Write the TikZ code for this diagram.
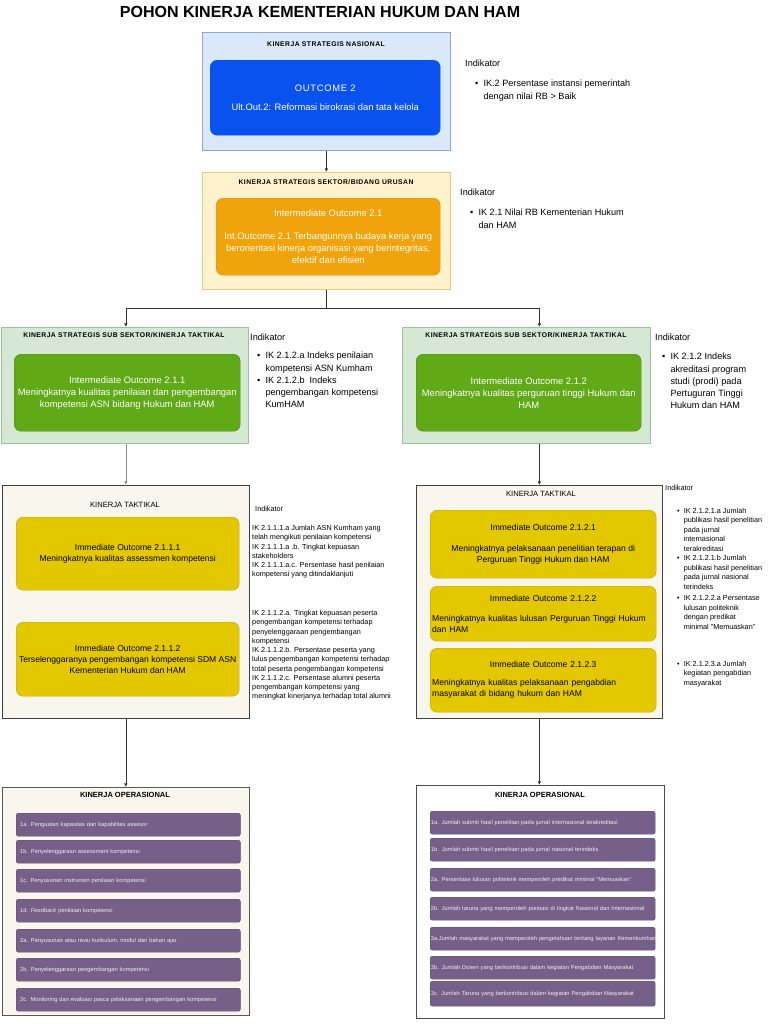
\documentclass[tikz,border=0pt]{standalone}
\usepackage{fontspec}
\setmainfont{Liberation Sans}
\usepackage{tikz}
\usetikzlibrary{arrows.meta,positioning,calc}

\definecolor{nasbg}{HTML}{DAE8FC}
\definecolor{nasline}{HTML}{8EA9CF}
\definecolor{outblue}{HTML}{0A52F0}
\definecolor{sekbg}{HTML}{FFF2CC}
\definecolor{sekline}{HTML}{E5C77E}
\definecolor{orangebox}{HTML}{F0A30A}
\definecolor{subbg}{HTML}{D5E8D4}
\definecolor{subline}{HTML}{9CC39B}
\definecolor{greenbox}{HTML}{60A917}
\definecolor{creambg}{HTML}{F9F7ED}
\definecolor{yellowbox}{HTML}{E3C800}
\definecolor{purplebox}{HTML}{76608A}

\tikzset{
  panel/.style={draw=#1, line width=0.6pt, anchor=north west, inner sep=0pt},
  wh/.style 2 args={minimum width=#1*0.03cm, minimum height=#2*0.03cm},
  judul/.style={font=\bfseries\fontsize{13.7}{16}\selectfont, inner sep=0pt},
  hdr/.style={font=\bfseries\fontsize{5.8}{7}\selectfont\addfontfeature{LetterSpace=6.5}, inner sep=0pt},
  hdrtak/.style={font=\fontsize{6.5}{8}\selectfont, inner sep=0pt},
  inbox/.style={rounded corners=6pt, anchor=north west, inner sep=0pt, align=center,
    font=\fontsize{8}{10.2}\selectfont},
  imbox/.style={inbox, fill=yellowbox, draw=yellowbox!85!black, line width=0.4pt,
    font=\fontsize{7.3}{9.4}\selectfont},
  pbox/.style={rounded corners=2pt, anchor=north west, fill=purplebox, draw=purplebox!80!black,
    line width=0.4pt, inner ysep=0pt, align=left, text=white!88!purplebox,
    font=\fontsize{4.9}{6}\selectfont},
  ind/.style={inner sep=0pt, align=left, font=\fontsize{7.8}{10.4}\selectfont},
  indkecil/.style={inner sep=0pt, align=left, font=\fontsize{6.2}{7.9}\selectfont},
  arr/.style={-{Latex[length=3pt,width=3pt]}, line width=0.6pt, draw=black!80},
  lin/.style={line width=0.6pt, draw=black!80},
}

\newcommand{\bul}{\textbullet\ \ }
\newcommand{\nobul}{\hphantom{\textbullet\ \ }}

\begin{document}
\begin{tikzpicture}[x=0.03cm, y=-0.03cm]
\useasboundingbox (0,0) rectangle (768,1024);

\node[judul] (judul) at (320,12) {POHON KINERJA KEMENTERIAN HUKUM DAN HAM};

% kinerja strategis nasional
\node[panel=nasline, fill=nasbg, wh={248}{118}] (nas) at (202,32) {};
\node[hdr] (nasH) at (326,44) {KINERJA STRATEGIS NASIONAL};
\node[inbox, fill=outblue, draw=outblue, wh={230}{75}, text=white] (out2) at (210,60)
  {{\addfontfeature{LetterSpace=8}OUTCOME 2}\\[5.5pt]Ult.Out.2: Reformasi birokrasi dan tata kelola};
\node[ind, anchor=west] (indNasH) at (465,63) {Indikator};
\node[ind, anchor=north west] (indNas) at (475,80)
  {\bul IK.2 Persentase instansi pemerintah\\ \nobul dengan nilai RB > Baik};

% kinerja strategis sektor
\node[panel=sekline, fill=sekbg, wh={248}{117}] (sek) at (202,172) {};
\node[hdr] (sekH) at (326,182) {KINERJA STRATEGIS SEKTOR/BIDANG URUSAN};
\node[inbox, fill=orangebox, draw=orangebox!90!black, wh={224}{77}, text=white] (io21) at (216,198)
  {Intermediate Outcome 2.1\\[9pt]Int.Outcome 2.1 Terbangunnya budaya kerja yang\\
   berorientasi kinerja organisasi yang berintegritas,\\ efektif dan efisien};
\node[ind, anchor=west] (indSekH) at (460,192) {Indikator};
\node[ind, anchor=north west] (indSek) at (470,209)
  {\bul IK 2.1 Nilai RB Kementerian Hukum\\ \nobul dan HAM};

% kinerja strategis sub sektor
\node[panel=subline, fill=subbg, wh={247}{116}] (subL) at (1,327) {};
\node[hdr] (subLH) at (124,335) {KINERJA STRATEGIS SUB SEKTOR/KINERJA TAKTIKAL};
\node[inbox, fill=greenbox, draw=greenbox!80!black, wh={226}{77}, text=white] (io211) at (14,354)
  {Intermediate Outcome 2.1.1\\ Meningkatnya kualitas penilaian dan pengembangan\\ kompetensi ASN bidang Hukum dan HAM};
\node[ind, anchor=west] (indSubLH) at (250,337) {Indikator};
\node[ind, anchor=north west] (indSubL) at (257,352)
  {\bul IK 2.1.2.a Indeks penilaian\\ \nobul kompetensi ASN Kumham\\
   \bul IK 2.1.2.b\ \ Indeks\\ \nobul pengembangan kompetensi\\ \nobul KumHAM};

\node[panel=subline, fill=subbg, wh={248}{116}] (subR) at (402,327) {};
\node[hdr] (subRH) at (526,335) {KINERJA STRATEGIS SUB SEKTOR/KINERJA TAKTIKAL};
\node[inbox, fill=greenbox, draw=greenbox!80!black, wh={225}{77}, text=white] (io212) at (416,354)
  {Intermediate Outcome 2.1.2\\ Meningkatnya kualitas perguruan tinggi Hukum dan\\ HAM};
\node[ind, anchor=west] (indSubRH) at (655,337) {Indikator};
\node[ind, anchor=north west] (indSubR) at (662,353)
  {\bul IK 2.1.2 Indeks\\ \nobul akreditasi program\\ \nobul studi (prodi) pada\\
   \nobul Pertuguran Tinggi\\ \nobul Hukum dan HAM};

% kinerja taktikal
\node[panel=black!75, fill=creambg, wh={247}{233}] (takL) at (2,485) {};
\node[hdrtak] (takLH) at (125,505) {KINERJA TAKTIKAL};
\node[imbox, wh={223}{73}] (im2111) at (16,517)
  {Immediate Outcome 2.1.1.1\\ Meningkatnya kualitas assessmen kompetensi};
\node[imbox, wh={223}{74}] (im2112) at (16,622)
  {Immediate Outcome 2.1.1.2\\ Terselenggaranya pengembangan kompetensi SDM ASN\\ Kementerian Hukum dan HAM};
\node[indkecil, anchor=west] (indTakLH) at (255,509) {Indikator};
\node[indkecil, anchor=north west] (indTakL1) at (252,525)
  {IK 2.1.1.1.a Jumlah ASN Kumham yang\\ telah mengikuti penilaian kompetensi\\
   IK 2.1.1.1.a .b. Tingkat kepuasan\\ stakeholders\\
   IK 2.1.1.1.a.c. Persentase hasil penilaian\\ kompetensi yang ditindaklanjuti};
\node[indkecil, anchor=north west] (indTakL2) at (252,610)
  {IK 2.1.1.2.a. Tingkat kepuasan peserta\\ pengembangan kompetensi terhadap\\
   penyelenggaraan pengembangan\\ kompetensi\\
   IK 2.1.1.2.b. Persentase peserta yang\\ lulus pengembangan kompetensi terhadap\\
   total peserta pengembangan kompetensi\\
   IK 2.1.1.2.c. Persentase alumni peserta\\ pengembangan kompetensi yang\\
   meningkat kinerjanya terhadap total alumni};

\node[panel=black!75, fill=creambg, wh={246}{233}] (takR) at (416,485) {};
\node[hdrtak] (takRH) at (541,494) {KINERJA TAKTIKAL};
\node[imbox, wh={226}{68}] (im2121) at (430,510)
  {Immediate Outcome 2.1.2.1\\[8pt] Meningkatnya pelaksanaan penelitian terapan di\\ Perguruan Tinggi Hukum dan HAM};
\node[imbox, wh={226}{55}, text width=6.66cm, align=left] (im2122) at (430,586)
  {\makebox[6.66cm]{Immediate Outcome 2.1.2.2}\\[8pt] \mbox{Meningkatnya kualitas lulusan Perguruan Tinggi Hukum}\\ dan HAM};
\node[imbox, wh={226}{64}, text width=6.66cm, align=left] (im2123) at (430,648)
  {\makebox[6.66cm]{Immediate Outcome 2.1.2.3}\\[6pt] Meningkatnya kualitas pelaksanaan pengabdian\\ masyarakat di bidang hukum dan HAM};
\node[indkecil, anchor=west] (indTakRH) at (665,488) {Indikator};
\node[indkecil, anchor=north west, font=\fontsize{6.2}{8.1}\selectfont] (indTakR1) at (677,508)
  {\bul IK 2.1.2.1.a Jumlah\\ \nobul publikasi hasil penelitian\\ \nobul pada jurnal\\
   \nobul internasional\\ \nobul terakreditasi\\
   \bul IK 2.1.2.1.b Jumlah\\ \nobul publikasi hasil penelitian\\ \nobul pada jurnal nasional\\ \nobul terindeks};
\node[indkecil, anchor=north west, font=\fontsize{6.2}{8.4}\selectfont] (indTakR2) at (677,595)
  {\bul IK 2.1.2.2.a Persentase\\ \nobul lulusan politeknik\\ \nobul dengan predikat\\ \nobul minimal "Memuaskan"};
\node[indkecil, anchor=north west, font=\fontsize{6.2}{8.1}\selectfont] (indTakR3) at (677,661)
  {\bul IK 2.1.2.3.a Jumlah\\ \nobul kegiatan pengabdian\\ \nobul masyarakat};

% kinerja operasional
\node[panel=black!65, fill=creambg, wh={247}{228}] (opL) at (2,787) {};
\node[hdr, font=\bfseries\fontsize{6.4}{8}\selectfont] (opLH) at (125,795) {KINERJA OPERASIONAL};
\node[pbox, wh={223}{23}, text width=6.49cm] (op1a) at (16,813) {1a. Penguatan kapasitas dan kapabilitas assesor};
\node[pbox, wh={223}{23}, text width=6.49cm] (op1b) at (16,840) {1b. Penyelenggaraan assessment kompetensi};
\node[pbox, wh={223}{23}, text width=6.49cm] (op1c) at (16,869) {1c. Penyusunan instrumen penilaian kompetensi};
\node[pbox, wh={223}{23}, text width=6.49cm] (op1d) at (16,899) {1d. \textit{Feedback} penilaian kompetensi};
\node[pbox, wh={223}{23}, text width=6.49cm] (op2a) at (16,929) {2a. Penyusunan atau reviu kurikulum, modul dan bahan ajar};
\node[pbox, wh={223}{23}, text width=6.49cm] (op2b) at (16,958) {2b. Penyelenggaraan pengembangan kompetensi};
\node[pbox, wh={223}{23}, text width=6.49cm] (op2c) at (16,988) {2c. Monitoring dan evaluasi pasca pelaksanaan pengembangan kompetensi};

\node[panel=black!70, fill=white, wh={248}{233}] (opR) at (416,785) {};
\node[hdr, font=\bfseries\fontsize{6.4}{8}\selectfont] (opRH) at (540,795) {KINERJA OPERASIONAL};
\node[pbox, wh={225}{23}, text width=6.71cm, inner xsep=0.02cm] (opR1a) at (430,811) {1a. Jumlah submit hasil penelitian pada jurnal internasional terakreditasi};
\node[pbox, wh={225}{23}, text width=6.71cm, inner xsep=0.02cm] (opR1b) at (430,838) {1b. Jumlah submit hasil penelitian pada jurnal nasional terindeks};
\node[pbox, wh={225}{23}, text width=6.71cm, inner xsep=0.02cm] (opR2a) at (430,868) {2a. Persentase lulusan politeknik memperoleh predikat minimal "Memuaskan"};
\node[pbox, wh={225}{23}, text width=6.71cm, inner xsep=0.02cm] (opR2b) at (430,897) {2b. Jumlah taruna yang memperoleh prestasi di tingkat Nasional dan Internasional};
\node[pbox, wh={225}{23}, text width=6.71cm, inner xsep=0.02cm] (opR3a) at (430,927) {\mbox{3a.Jumlah masyarakat yang memperoleh pengetahuan tentang layanan Kemenkumham}};
\node[pbox, wh={225}{23}, text width=6.71cm, inner xsep=0.02cm] (opR3b) at (430,956) {3b. Jumlah Dosen yang berkontribusi dalam kegiatan Pengabdian Masyarakat};
\node[pbox, wh={225}{25}, text width=6.71cm, inner xsep=0.02cm] (opR3c) at (430,981) {3c. Jumlah Taruna yang berkontribusi dalam kegiatan Pengabdian Masyarakat};

% penghubung
\draw[arr] (nas.south) -- (sek.north);
\draw[lin] (sek.south) -- ++(0,19) coordinate (cabang);
\draw[arr] (cabang) -| (subL.north -| takL.north);
\draw[arr] (cabang) -| (subR.north -| takR.north);
\draw[arr, draw=black!45] (subL.south -| takL.north) -- (takL.north);
\draw[arr] (subR.south -| takR.north) -- (takR.north);
\draw[arr] (takL.south) -- (takL.south |- opL.north);
\draw[arr] (takR.south) -- (takR.south |- opR.north);
\end{tikzpicture}
\end{document}
